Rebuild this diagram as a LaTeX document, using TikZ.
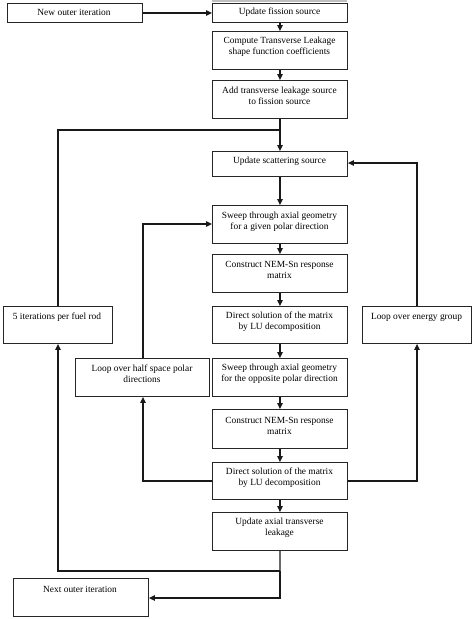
\documentclass[tikz,border=0pt]{standalone}
\usepackage{fontspec}
\setmainfont{Liberation Serif}
\usetikzlibrary{arrows.meta}
\tikzset{
  box/.style={draw=black!85, line width=0.9pt, rectangle, inner sep=0pt, anchor=north west},
  txt/.style={align=center, inner sep=0pt, font=\fontsize{9.4}{11}\selectfont},
  conn/.style={line width=1.2pt, black!90},
  arr/.style={conn, -{Triangle[length=6pt,width=5.5pt]}}
}
\newcommand{\flowbox}[6]{% name, x1, y1, x2, y2, text-y
  \node[box, minimum width={#4-#2}, minimum height={#5-#3}] (#1) at (#2,#3) {};
}
\begin{document}
\begin{tikzpicture}[x=1pt,y=-1pt]
\useasboundingbox (0,0) rectangle (474,619);
\fill[black!25] (212,0) rectangle (347,2);
% centre column
\node[box, minimum width=135pt, minimum height=19pt] (b1) at (212,3) {};
\node[txt] (t1) at (279.5,12.3) {Update fission source};
\node[box, minimum width=135pt, minimum height=38pt] (b2) at (212,31) {};
\node[txt] (t2) at (279.5,46.5) {Compute Transverse Leakage\\shape function coefficients};
\node[box, minimum width=135pt, minimum height=38pt] (b3) at (212,80) {};
\node[txt] (t3) at (279.5,95.5) {Add transverse leakage source\\to fission source};
\node[box, minimum width=135pt, minimum height=25pt] (b4) at (212,151) {};
\node[txt] (t4) at (279.5,161.7) {Update scattering source};
\node[box, minimum width=135pt, minimum height=38pt] (b5) at (212,205) {};
\node[txt] (t5) at (279.5,221.3) {Sweep through axial geometry\\for a given polar direction};
\node[box, minimum width=135pt, minimum height=38pt] (b6) at (212,254) {};
\node[txt] (t6) at (279.5,269.5) {Construct NEM-Sn response\\matrix};
\node[box, minimum width=135pt, minimum height=37pt] (b7) at (212,306) {};
\node[txt] (t7) at (279.5,322) {Direct solution of the matrix\\by LU decomposition};
\node[box, minimum width=135pt, minimum height=38pt] (b8) at (212,358) {};
\node[txt] (t8) at (279.5,373.8) {Sweep through axial geometry\\for the opposite polar direction};
\node[box, minimum width=135pt, minimum height=39pt] (b9) at (212,409) {};
\node[txt] (t9) at (279.5,425.5) {Construct NEM-Sn response\\matrix};
\node[box, minimum width=135pt, minimum height=37pt] (b10) at (212,462) {};
\node[txt] (t10) at (279.5,477.3) {Direct solution of the matrix\\by LU decomposition};
\node[box, minimum width=135pt, minimum height=38pt] (b11) at (212,512) {};
\node[txt] (t11) at (279.5,528) {Update axial transverse\\leakage};
% side boxes
\node[box, minimum width=135pt, minimum height=19pt] (newo) at (7,3) {};
\node[txt] (tn) at (74,12.3) {New outer iteration};
\node[box, minimum width=109pt, minimum height=37pt] (iter) at (3,306) {};
\node[txt] (ti) at (57,317) {5 iterations per fuel rod};
\node[box, minimum width=134pt, minimum height=38pt] (half) at (75,358) {};
\node[txt] (th) at (142,373.8) {Loop over half space polar\\directions};
\node[box, minimum width=109pt, minimum height=37pt] (energy) at (362,306) {};
\node[txt] (te) at (416.5,317) {Loop over energy group};
\node[box, minimum width=135pt, minimum height=38pt] (nexto) at (13,578) {};
\node[txt] (tx) at (80,589) {Next outer iteration};
% coordinates
\coordinate (j1) at (280,130);
\coordinate (j2) at (280,571);
% connectors
\draw[arr] (newo.east) -- (newo.east -| b1.west);
\draw[arr] (b1.south) -- (b2.north);
\draw[arr] (b2.south) -- (b3.north);
\draw[arr] (b3.south) -- (b4.north);
\draw[conn] (iter.north -| 58,0) |- (j1);
\draw[arr] (b4.south) -- (b5.north);
\draw[arr] (b5.south) -- (b6.north);
\draw[arr] (b6.south) -- (b7.north);
\draw[arr] (b7.south) -- (b8.north);
\draw[arr] (b8.south) -- (b9.north);
\draw[arr] (b9.south) -- (b10.north);
\draw[arr] (b10.south) -- (b11.north);
\draw[conn] (b11.south) -- (j2);
\draw[arr] (j2) -| (iter.south -| 58,0);
\draw[arr] (j2) |- (nexto.east |- 0,598);
\draw[arr] (b10.west) -| (half.south -| 143,0);
\draw[arr] (half.north -| 143,0) |- (b5.west |- 0,224);
\draw[arr] (b10.east) -| (energy.south -| 417,0);
\draw[arr] (energy.north -| 417,0) |- (b4.east |- 0,163);
\end{tikzpicture}
\end{document}
